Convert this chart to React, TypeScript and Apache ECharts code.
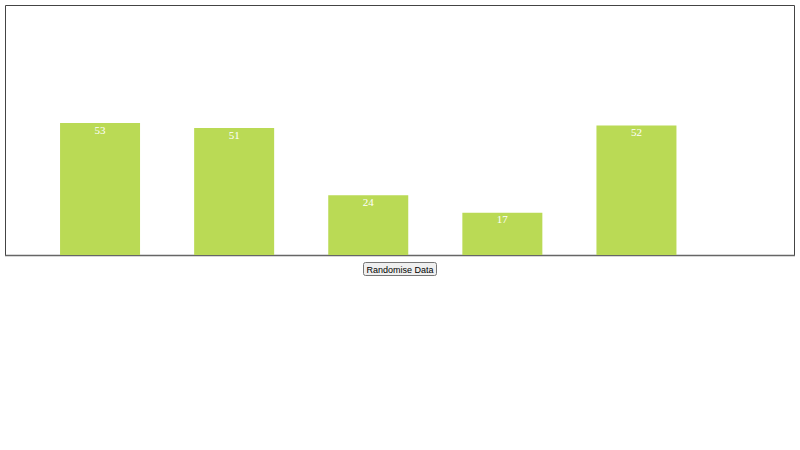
import React, { useEffect, useRef } from "react";
import * as echarts from "echarts";

const categories = ["A", "B", "C", "D", "E"];
const values = [53, 51, 24, 17, 52];
const yMax = 100;

export default function App() {
  const ref = useRef<HTMLDivElement>(null);
  useEffect(() => {
    if (!ref.current) return;
    const chart = echarts.init(ref.current, undefined, { renderer: "svg" });
    chart.setOption({
      animation: false,
      grid: { left: 33, right: 96.5, top: 6, bottom: 3 },
      xAxis: {
        type: "category",
        data: categories,
        axisLine: { show: false },
        axisTick: { show: false },
        axisLabel: { show: false },
      },
      yAxis: {
        type: "value",
        min: 0,
        max: yMax,
        show: false,
        splitLine: { show: false },
      },
      graphic: [
        {
          type: "rect",
          shape: { x: 5.5, y: 5.5, width: 789, height: 250 },
          style: { fill: "none", stroke: "#444", lineWidth: 1 },
          silent: true,
        },
        {
          type: "line",
          shape: { x1: 5, y1: 255.5, x2: 795, y2: 255.5 },
          style: { stroke: "#666", lineWidth: 1.5 },
          silent: true,
        },
      ],
      series: [
        {
          type: "bar",
          data: values,
          barWidth: 80,
          itemStyle: { color: "#bada55" },
          label: {
            show: true,
            position: "insideTop",
            distance: 1,
            color: "#fff",
            fontFamily: "'Liberation Serif', 'Times New Roman', serif",
            fontSize: 11,
          },
        },
      ],
    });
    return () => chart.dispose();
  }, []);

  return (
    <div style={{ position: "absolute", left: 0, top: 0, width: 800, height: 450, background: "#fff" }}>
      <div ref={ref} style={{ position: "absolute", left: 0, top: 0, width: 800, height: 258 }} />
      <button
        style={{
          position: "absolute",
          left: 363,
          top: 262,
          width: 74,
          height: 14,
          padding: 0,
          fontSize: 9,
          lineHeight: "12px",
          whiteSpace: "nowrap",
          fontFamily: "Arial, 'Liberation Sans', sans-serif",
        }}
      >
        Randomise Data
      </button>
    </div>
  );
}
